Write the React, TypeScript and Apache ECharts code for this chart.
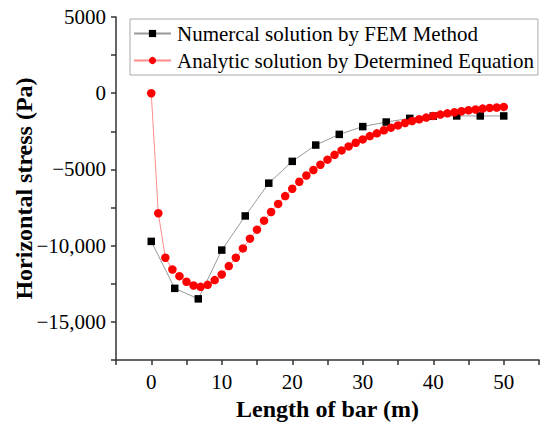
import React, { useEffect, useRef } from "react";
import * as echarts from "echarts";

const femX = [0, 3.33, 6.67, 10, 13.33, 16.67, 20, 23.33, 26.67, 30, 33.33, 36.67, 40, 43.33, 46.67, 50];
const femY = [-9720, -12800, -13490, -10290, -8050, -5900, -4470, -3400, -2700, -2190, -1890, -1650, -1500, -1490, -1490, -1490];

const anaX = [0, 1, 2, 3, 4, 5, 6, 7, 8, 9, 10, 11, 12, 13, 14, 15, 16, 17, 18, 19, 20, 21, 22, 23, 24, 25, 26, 27, 28, 29, 30, 31, 32, 33, 34, 35, 36, 37, 38, 39, 40, 41, 42, 43, 44, 45, 46, 47, 48, 49, 50];
const anaY = [0, -7870, -10790, -11560, -12000, -12370, -12610, -12700, -12570, -12260, -11890, -11340, -10790, -10180, -9540, -8950, -8360, -7790, -7260, -6750, -6270, -5810, -5400, -5040, -4690, -4360, -4040, -3750, -3490, -3250, -3030, -2810, -2630, -2430, -2260, -2110, -1950, -1820, -1710, -1600, -1490, -1400, -1320, -1250, -1180, -1120, -1070, -1010, -965, -940, -900];

const xTickLabels = [0, 10, 20, 30, 40, 50];
const yTickLabels = [-15000, -10000, -5000, 0, 5000];

const FONT = "'Liberation Serif', 'Times New Roman', serif";

function fmtY(v: number): string {
  const a = Math.abs(v);
  const s = a >= 10000 ? a.toLocaleString("en-US") : String(a);
  return v < 0 ? "\u2212" + s : s;
}

export default function App() {
  const ref = useRef<HTMLDivElement>(null);
  useEffect(() => {
    if (!ref.current) return;
    const chart = echarts.init(ref.current, null, { renderer: "svg" });
    const axisLine = { show: true, onZero: false, lineStyle: { color: "#333", width: 1.5 } };
    const tickLine = { color: "#333", width: 1.5 };
    chart.setOption({
      animation: false,
      backgroundColor: "#fff",
      grid: { left: 116, right: 11, top: 17, bottom: 79, containLabel: false, outerBoundsMode: "none" },
      legend: {
        show: true,
        orient: "vertical",
        left: 130,
        top: 19,
        itemWidth: 37,
        itemHeight: 9,
        itemGap: 6,
        padding: [4, 4, 4, 3],
        borderColor: "#aaa",
        borderWidth: 1,
        textStyle: { fontFamily: FONT, fontSize: 21, color: "#000", padding: [0, 0, 0, 1] },
        data: ["Numercal solution by FEM Method", "Analytic solution by Determined Equation"],
      },
      xAxis: [
        {
          type: "value",
          min: -5,
          max: 55,
          interval: 5,
          position: "bottom",
          axisLine,
          splitLine: { show: false },
          axisTick: { show: true, inside: false, length: 5, lineStyle: tickLine },
          axisLabel: {
            show: true,
            margin: 11,
            fontFamily: FONT,
            fontSize: 21,
            color: "#000",
            formatter: (v: number) => (xTickLabels.indexOf(v) >= 0 ? String(v) : ""),
          },
          name: "Length of bar (m)",
          nameLocation: "middle",
          nameGap: 37,
          nameMoveOverlap: false,
          nameTextStyle: { fontFamily: FONT, fontSize: 24, fontWeight: "bold", color: "#000" },
        },
      ],
      yAxis: [
        {
          type: "value",
          min: -17500,
          max: 5000,
          interval: 2500,
          position: "left",
          axisLine,
          splitLine: { show: false },
          axisTick: { show: true, inside: false, length: 5, lineStyle: tickLine },
          axisLabel: {
            show: true,
            margin: 10,
            fontFamily: FONT,
            fontSize: 21,
            color: "#000",
            formatter: (v: number) => (yTickLabels.indexOf(v) >= 0 ? fmtY(v) : ""),
          },
          name: "Horizontal stress (Pa)",
          nameLocation: "middle",
          nameGap: 80,
          nameMoveOverlap: false,
          nameTextStyle: { fontFamily: FONT, fontSize: 24, fontWeight: "bold", color: "#000" },
        },
      ],
      series: [
        {
          name: "Numercal solution by FEM Method",
          type: "line",
          smooth: false,
          data: femX.map((x, i) => [x, femY[i]]),
          symbol: "rect",
          symbolSize: 7.5,
          itemStyle: { color: "#000" },
          lineStyle: { color: "#999", width: 1 },
        },
        {
          name: "Analytic solution by Determined Equation",
          type: "line",
          smooth: false,
          data: anaX.map((x, i) => [x, anaY[i]]),
          symbol: "circle",
          symbolSize: 8.5,
          itemStyle: { color: "#ff0000" },
          lineStyle: { color: "#ff8c8c", width: 1 },
        },
      ],
    });
    return () => chart.dispose();
  }, []);
  return <div ref={ref} style={{ width: 550, height: 439, position: "absolute", left: 0, top: 0 }} />;
}
